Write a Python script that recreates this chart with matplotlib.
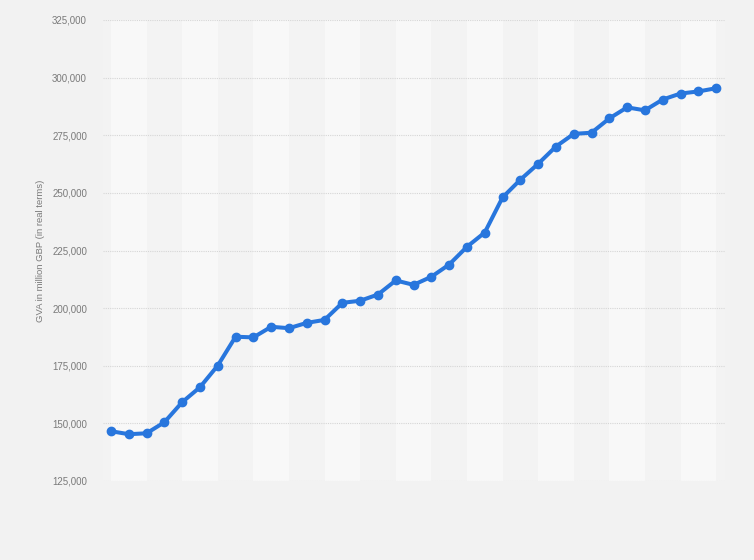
import matplotlib
matplotlib.use("Agg")
import matplotlib.pyplot as plt
from matplotlib.ticker import FuncFormatter

years = list(range(1985, 2020))
gva = [146600, 145300, 145700, 150500, 159200, 165700, 175100, 187600, 187300,
       191900, 191300, 193600, 194900, 202300, 203200, 205900, 212000, 210100,
       213600, 218900, 226600, 232800, 248000, 255700, 262600, 270100, 275600,
       276100, 282300, 287100, 285800, 290500, 293100, 294000, 295400]
y_ticks = [125000, 150000, 175000, 200000, 225000, 250000, 275000, 300000, 325000]

plt.rcParams['font.family'] = ['Liberation Sans', 'DejaVu Sans']

fig = plt.figure(figsize=(7.54, 5.60), dpi=100, facecolor='#f2f2f2')
ax = fig.add_axes([103/754, 1-481/560, (725-103)/754, (481-20)/560])
ax.set_facecolor('#f3f3f3')

x = list(range(len(years)))
for i in range(0, len(years) - 1, 4):
    ax.axvspan(i, i + 2, color='#f8f8f8', lw=0, zorder=0)

ax.plot(x, gva, color='#2876dd', lw=2.9, marker='o', markersize=6,
        solid_capstyle='round', zorder=3)

ax.set_xlim(-0.45, len(years) - 1 + 0.5)
ax.set_ylim(125000, 325000)
ax.set_yticks(y_ticks)
ax.yaxis.set_major_formatter(FuncFormatter(lambda v, p: f"{int(v):,}"))
ax.set_xticks([])
ax.grid(axis='y', color='#d6d6d6', linestyle=(0, (1, 1)), lw=0.8, zorder=1)
ax.tick_params(axis='y', length=0, pad=11.5, labelsize=7, labelcolor='#7a7a7a')
for s in ax.spines.values():
    s.set_visible(False)
ax.set_ylabel('GVA in million GBP (in real terms)', fontsize=6.8, color='#7a7a7a', labelpad=5.5)

fig.savefig('out.png', dpi=100, facecolor=fig.get_facecolor())
